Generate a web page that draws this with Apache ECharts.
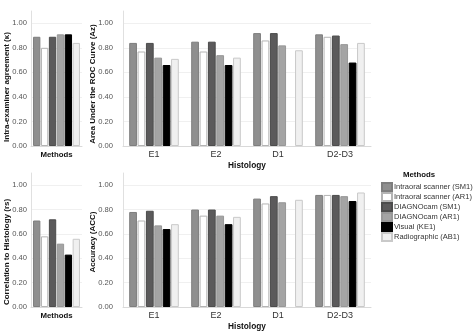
<!DOCTYPE html>
<html><head><meta charset="utf-8">
<script src="https://cdn.jsdelivr.net/npm/echarts@6/dist/echarts.min.js"></script>
<style>html,body{margin:0;padding:0;background:#fff}#c{width:474px;height:334px}</style>
</head><body><div id="c"></div>
<script>
const methods = ['Intraoral scanner (SM1)','Intraoral scanner (AR1)','DIAGNOcam (SM1)','DIAGNOcam (AR1)','Visual (KE1)','Radiographic (AB1)'];
const histology = ['E1','E2','D1','D2-D3'];
const leftCats = ['Methods'];
const yTicks = [0,0.2,0.4,0.6,0.8,1.0];
// intra-examiner agreement (kappa), one per method
const kappa = [0.89,0.80,0.89,0.91,0.91,0.84];
// correlation to histology (rs), one per method
const rs = [0.71,0.58,0.72,0.52,0.43,0.56];
// AUC per method, by histology category
const azSM1 = [0.84,0.85,0.92,0.91];
const azAR1 = [0.77,0.77,0.86,0.89];
const azDSM1 = [0.84,0.85,0.92,0.90];
const azDAR1 = [0.72,0.74,0.82,0.83];
const azVis = [0.66,0.66,null,0.68];
const azRad = [0.71,0.72,0.78,0.84];
// accuracy per method, by histology category
const accSM1 = [0.78,0.80,0.89,0.92];
const accAR1 = [0.71,0.75,0.85,0.92];
const accDSM1 = [0.79,0.80,0.91,0.92];
const accDAR1 = [0.67,0.75,0.86,0.91];
const accVis = [0.64,0.68,null,0.87];
const accRad = [0.68,0.74,0.88,0.94];

const az = [azSM1,azAR1,azDSM1,azDAR1,azVis,azRad];
const acc = [accSM1,accAR1,accDSM1,accDAR1,accVis,accRad];

const fills = ['#8f8f8f','#ffffff','#5b5a5b','#a4a4a4','#000000','#f0f0f0'];
const borders = ['#7e7e7e','#b4b4b4','#4c4c4c','#979797','#000000','#c9c9c9'];

const font = 'Liberation Sans, Arial, sans-serif';
const grids = [
  {left:31, top:11, width:51, height:135},
  {left:123, top:11, width:248, height:135},
  {left:31, top:173, width:51, height:134},
  {left:123, top:173, width:248, height:134}
];
const yNames = ['Intra-examiner agreement (\u03ba)','Area Under the ROC Curve (Az)','Correlation to Histology (rs)','Accuracy (ACC)'];
const yNamePos = [[6.5,87],[92.5,84],[6.5,252],[92.5,242]];

const xAxes = grids.map((g,i)=>({
  type:'category', gridIndex:i,
  data: (i%2===0)? leftCats : histology,
  axisLine:{lineStyle:{color:'#d9d9d9'}}, axisTick:{show:false},
  axisLabel:{color: (i%2===0)?'#111':'#333', fontFamily:font, fontSize:(i%2===0)?7.8:9, fontWeight:(i%2===0)?'bold':'normal', margin:(i%2===0)?5:4},
  name: (i%2===1)? 'Histology' : '', nameLocation:'middle', nameGap:16,
  nameTextStyle:{fontFamily:font, fontSize:8.3, fontWeight:'bold', color:'#111'}
}));
const yAxes = grids.map((g,i)=>({
  type:'value', gridIndex:i, min:0, max:1.1, interval:0.2,
  axisLine:{show:true, lineStyle:{color:'#e0e0e0'}}, axisTick:{show:false},
  splitLine:{lineStyle:{color:'#f0f0f0'}, showMaxLine:false},
  axisLabel:{color:'#555', fontFamily:font, fontSize:7.6, margin:(i%2===0)?4:10,
    formatter:v=> (yTicks.some(t=>Math.abs(t-v)<1e-9)? v.toFixed(2) : ''), showMaxLabel:false}
}));

const series = [];
for (let m=0;m<6;m++){
  const style = {color:fills[m], borderColor:borders[m], borderWidth:1};
  series.push({type:'bar', name:methods[m], xAxisIndex:0, yAxisIndex:0, data:[kappa[m]], itemStyle:style, barGap:'8%', barCategoryGap:'8%'});
  series.push({type:'bar', name:methods[m], xAxisIndex:1, yAxisIndex:1, data:az[m], itemStyle:style, barGap:'8%', barCategoryGap:'20%'});
  series.push({type:'bar', name:methods[m], xAxisIndex:2, yAxisIndex:2, data:[rs[m]], itemStyle:style, barGap:'8%', barCategoryGap:'8%'});
  series.push({type:'bar', name:methods[m], xAxisIndex:3, yAxisIndex:3, data:acc[m], itemStyle:style, barGap:'8%', barCategoryGap:'20%'});
}

const graphics = yNames.map((t,i)=>({
  type:'text', x:yNamePos[i][0], y:yNamePos[i][1], rotation:Math.PI/2,
  style:{text:t, fill:'#111', font:'bold 8px ' + font, textAlign:'center', textVerticalAlign:'middle'}
}));

const chart = echarts.init(document.getElementById('c'), null, {renderer:'canvas'});
chart.setOption({
  animation:false,
  backgroundColor:'#fff',
  title:{text:'Methods', left:403, top:171, padding:0, textStyle:{fontFamily:font, fontSize:7.8, fontWeight:'bold', color:'#111'}},
  legend:{orient:'vertical', left:381, top:182, padding:0, itemWidth:10, itemHeight:8, itemGap:0,
    data:methods.map(n=>({name:n, icon:'rect'})),
    textStyle:{fontFamily:font, fontSize:7.5, lineHeight:9.8, color:'#333', padding:[0,0,0,-3]}},
  graphic:graphics,
  grid:grids, xAxis:xAxes, yAxis:yAxes, series
});
</script></body></html>
